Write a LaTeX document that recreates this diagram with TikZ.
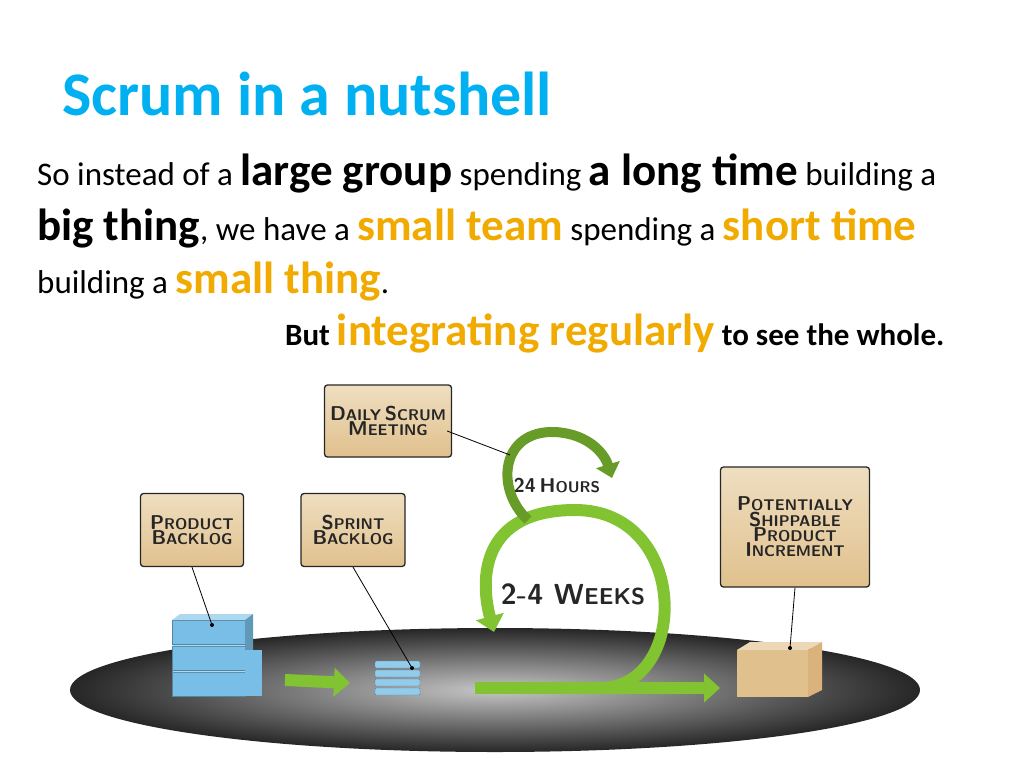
\documentclass[tikz,border=0pt]{standalone}
\usepackage{fontspec}
\setmainfont{Carlito}
\usetikzlibrary{arrows.meta}
\definecolor{ttl}{RGB}{0,176,240}
\definecolor{org}{RGB}{240,170,0}
\definecolor{grn}{RGB}{130,195,50}
\definecolor{tan}{RGB}{228,200,150}
\definecolor{blu}{RGB}{120,190,230}
\newcommand{\capsc}[2]{{\fontsize{20}{21}\selectfont #1}{\fontsize{15.5}{21}\selectfont #2}}
\newcommand{\bigt}{\fontsize{45}{45}\selectfont\bfseries}
\begin{document}
\begin{tikzpicture}[x=1pt,y=-1pt,
 lbox/.style={draw=black!85,line width=1.3pt,rounded corners=3pt,top color=tan!60!white,bottom color=tan!90!brown,align=center,font=\bfseries\sffamily,text=black!85},
 conn/.style={black,line width=0.8pt},
 garrow/.style={grn,line width=12pt,-{Triangle[length=16pt,width=28pt]}}]
\useasboundingbox (0,0) rectangle (1024,768);
\node[anchor=base west,inner sep=0,text=ttl,font=\fontsize{62}{62}\selectfont\bfseries] (title) at (62,115) {Scrum in a nutshell};
\node[anchor=base west,inner sep=0] (l1) at (37,185) {\fontsize{33}{33}\selectfont So instead of a {\bigt large group} spending {\bigt a long time} building a};
\node[anchor=base west,inner sep=0] (l2) at (37,240) {\fontsize{33}{33}\selectfont {\bigt big thing}, we have a {\bigt\color{org}small team} spending a {\bigt\color{org}short time}};
\node[anchor=base west,inner sep=0] (l3) at (37,293) {\fontsize{33}{33}\selectfont building a {\bigt\color{org}small thing}.};
\node[anchor=base west,inner sep=0] (l4) at (285,345) {\fontsize{31}{31}\selectfont\bfseries But {\fontsize{45}{45}\selectfont\color{org}integrating regularly} to see the whole.};
% platform
\shade[inner color=gray!45,outer color=black!85] (495,690) ellipse (425 and 62);
% boxes
\node[lbox,minimum width=127pt,minimum height=72pt] (daily) at (388,421) {\capsc{D}{AILY} \capsc{S}{CRUM}\\\capsc{M}{EETING}};
\node[lbox,minimum width=103pt,minimum height=73pt] (pb) at (192,530) {\capsc{P}{RODUCT}\\\capsc{B}{ACKLOG}};
\node[lbox,minimum width=104pt,minimum height=73pt] (sb) at (353,530) {\capsc{S}{PRINT}\\\capsc{B}{ACKLOG}};
\node[lbox,minimum width=149pt,minimum height=120pt] (psi) at (795,527) {\capsc{P}{OTENTIALLY}\\\capsc{S}{HIPPABLE}\\\capsc{P}{RODUCT}\\\capsc{I}{NCREMENT}};
% product backlog stack
\foreach \y in {672,646,620}{\draw[blu!70!black,fill=blu,line width=0.5pt] (172,\y) rectangle (245,\y+24);\fill[blu!60!white] (172,\y)--(180,\y-6)--(253,\y-6)--(245,\y)--cycle;}
\fill[blu!80!black] (245,620)--(253,614)--(253,690)--(245,696)--cycle;
\fill[blu] (245,650) rectangle (262,696);
\coordinate (pbs) at (212,625);
% sprint stack
\foreach \y in {688,679,670,661}{\draw[blu!70!black,fill=blu!80!white,line width=0.4pt,rounded corners=1pt] (375,\y) rectangle (420,\y+7);}
\coordinate (sbs) at (412,668);
% box
\fill[tan!90!brown] (737,650) rectangle (808,697);
\fill[tan!70!white] (737,650)--(750,642)--(822,642)--(808,650)--cycle;
\fill[tan!70!brown] (808,650)--(822,642)--(822,690)--(808,697)--cycle;
\coordinate (psis) at (790,648);
% green arrows
\draw[garrow] (285,680) -- (350,683);
\draw[garrow] (475,688) -- (720,688);
\draw[garrow] (600,688) .. controls (690,688) and (690,510) .. (575,510) .. controls (480,510) and (480,580) .. (494,632);
\draw[grn!80!black,line width=10pt,-{Triangle[length=14pt,width=24pt]}] (528,520) .. controls (495,490) and (500,430) .. (555,432) .. controls (590,434) and (605,455) .. (612,478);
\coordinate (dailys) at (510,455);
% connectors
\draw[conn] (daily.east) ++(-5,10) -- (dailys);
\draw[conn] (pb.south) -- (pbs); \fill (pbs) circle (2);
\draw[conn] (sb.south) -- (sbs); \fill (sbs) circle (2);
\draw[conn] (psi.south) -- (psis); \fill (psis) circle (2);
% labels
\node[font=\bfseries\sffamily,text=black!85] (h24) at (557,486) {\capsc{24}{} \capsc{H}{OURS}};
\node[font=\bfseries\sffamily\fontsize{29}{29}\selectfont,text=black!85] (w24) at (573,594) {2-4 W{\fontsize{23}{23}\selectfont EEKS}};
\end{tikzpicture}
\end{document}
